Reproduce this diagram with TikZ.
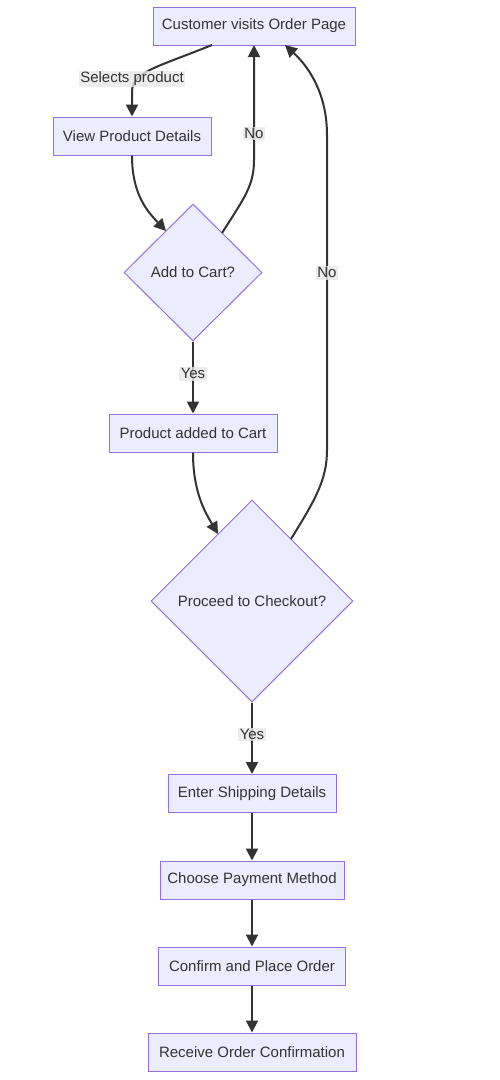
\documentclass[tikz,border=0pt]{standalone}
\usepackage{fontspec}
\setmainfont{Liberation Sans}
\usetikzlibrary{shapes.geometric,arrows.meta,calc}
\definecolor{nodefill}{HTML}{ECECFF}
\definecolor{nodeborder}{HTML}{9370DB}
\definecolor{edgecol}{HTML}{333333}
\definecolor{labelbg}{HTML}{E8E8E8}
\definecolor{txt}{HTML}{333333}
\tikzset{
  box/.style={draw=nodeborder, fill=nodefill, line width=1pt, minimum height=38pt, inner xsep=7pt, text=txt, font=\fontsize{15}{18}\selectfont},
  decision/.style={diamond, draw=nodeborder, fill=nodefill, line width=1pt, inner sep=0pt, text=txt, font=\fontsize{15}{18}\selectfont},
  edge/.style={draw=edgecol, line width=2pt, -{Triangle[length=12pt,width=12pt]}},
  elabel/.style={fill=labelbg, fill opacity=0.8, text opacity=1, text=txt, inner sep=1.5pt, font=\fontsize{15}{18}\selectfont}
}
\begin{document}
\begin{tikzpicture}[x=1pt,y=-1pt]
\useasboundingbox (0,0) rectangle (500,1080);
\fill[white] (0,0) rectangle (500,1080);

\node[box, minimum width=202pt] (cust) at (254,26) {Customer visits Order Page};
\node[box, minimum width=158pt] (view) at (132,136) {View Product Details};
\node[decision, minimum width=138pt, minimum height=137pt] (add) at (193,272.5) {Add to Cart?};
\node[box, minimum width=168pt] (prod) at (193,433) {Product added to Cart};
\node[decision, minimum width=202pt, minimum height=202pt] (proc) at (252,601) {Proceed to Checkout?};
\node[box, minimum width=168pt] (ship) at (252,793.5) {Enter Shipping Details};
\node[box, minimum width=184pt] (pay) at (252,880) {Choose Payment Method};
\node[box, minimum width=187pt] (conf) at (252,966) {Confirm and Place Order};
\node[box, minimum width=208pt] (recv) at (252,1052) {Receive Order Confirmation};

\coordinate (c1) at (212,45);
\coordinate (a1) at (166,231);
\coordinate (a2) at (222,233);
\coordinate (p1) at (218,534);
\coordinate (p2) at (291,539);
\coordinate (cn1) at (254,45);
\coordinate (cn2) at (285,45);

% Customer -> View
\draw[edge] (c1) .. controls (155,68) and (132,72) .. (132,92) -- (view.north);
\node[elabel] (lsel) at (132,79) {Selects product};

% View -> Add
\draw[edge] (view.south) .. controls (132,195) and (148,212) .. (a1);

% Add -> Customer (No)
\draw[edge] (a2) .. controls (245,197) and (254,185) .. (254,160) -- node[elabel, pos=0.23] (lno1) {No} (cn1);

% Add -> Product (Yes)
\draw[edge] (add.south) -- node[elabel, pos=0.45] (lyes1) {Yes} (prod.north);

% Product -> Proceed
\draw[edge] (prod.south) .. controls (193,492) and (205,512) .. (p1);

% Proceed -> Customer (No)
\draw[edge] (p2) .. controls (315,500) and (327,480) .. (327,450) -- node[elabel, pos=0.5625] (lno2) {No} (327,135) .. controls (327,95) and (310,68) .. (cn2);

% Proceed -> Shipping (Yes)
\draw[edge] (proc.south) -- node[elabel, pos=0.45] (lyes2) {Yes} (ship.north);

\draw[edge] (ship.south) -- (pay.north);
\draw[edge] (pay.south) -- (conf.north);
\draw[edge] (conf.south) -- (recv.north);
\end{tikzpicture}
\end{document}
